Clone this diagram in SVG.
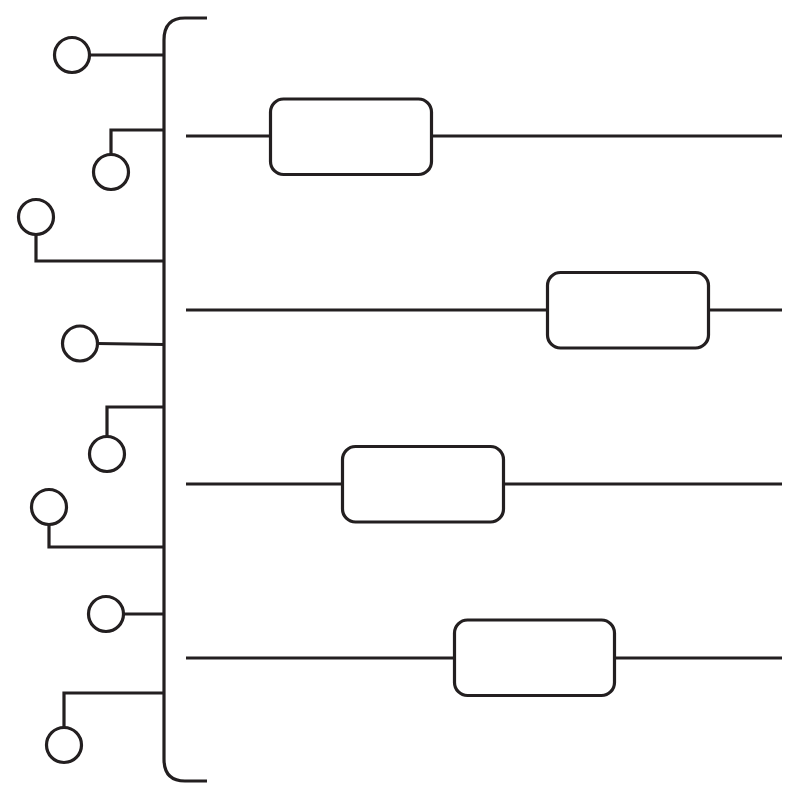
<svg xmlns="http://www.w3.org/2000/svg" width="800" height="800" viewBox="0 0 800 800">
<style>
.s{fill:none;stroke:#231f20;stroke-width:3.2;stroke-linecap:butt;stroke-linejoin:miter}
.c{fill:#fff;stroke:#231f20;stroke-width:3.2}
.b{fill:#fff;stroke:#231f20;stroke-width:3.2}
</style>
<rect width="800" height="800" fill="#fff"/>
<g id="connectors">
<path class="s" d="M207,18 H185 Q164,18 164,40 V759 Q164,781 185,781 H207"/>
<path class="s" d="M89.5,55 H164"/>
<path class="s" d="M164,130 H111 V154.5"/>
<path class="s" d="M36,234.5 V261 H164"/>
<path class="s" d="M97.5,343.5 L164,344.5"/>
<path class="s" d="M164,407 H107 V436.5"/>
<path class="s" d="M49,524.5 V547 H164"/>
<path class="s" d="M123.5,614 H164"/>
<path class="s" d="M164,693 H64 V727.5"/>
<path class="s" d="M186,136 H782"/>
<path class="s" d="M186,310 H782"/>
<path class="s" d="M186,484 H782"/>
<path class="s" d="M186,658 H782"/>
</g>
<g id="circle1"><circle class="c" cx="72" cy="55" r="17.5"/></g>
<g id="circle2"><circle class="c" cx="111" cy="172" r="17.5"/></g>
<g id="circle3"><circle class="c" cx="36" cy="217" r="17.5"/></g>
<g id="circle4"><circle class="c" cx="80" cy="343.5" r="17.5"/></g>
<g id="circle5"><circle class="c" cx="107" cy="454" r="17.5"/></g>
<g id="circle6"><circle class="c" cx="49" cy="507" r="17.5"/></g>
<g id="circle7"><circle class="c" cx="106" cy="614" r="17.5"/></g>
<g id="circle8"><circle class="c" cx="64" cy="745" r="17.5"/></g>
<g id="box1"><rect class="b" x="270.5" y="99" width="161" height="75.5" rx="13"/></g>
<g id="box2"><rect class="b" x="547.5" y="272.5" width="161" height="75.5" rx="13"/></g>
<g id="box3"><rect class="b" x="342.5" y="446.5" width="161" height="75.5" rx="13"/></g>
<g id="box4"><rect class="b" x="454.5" y="620" width="160" height="75.5" rx="13"/></g>
</svg>
